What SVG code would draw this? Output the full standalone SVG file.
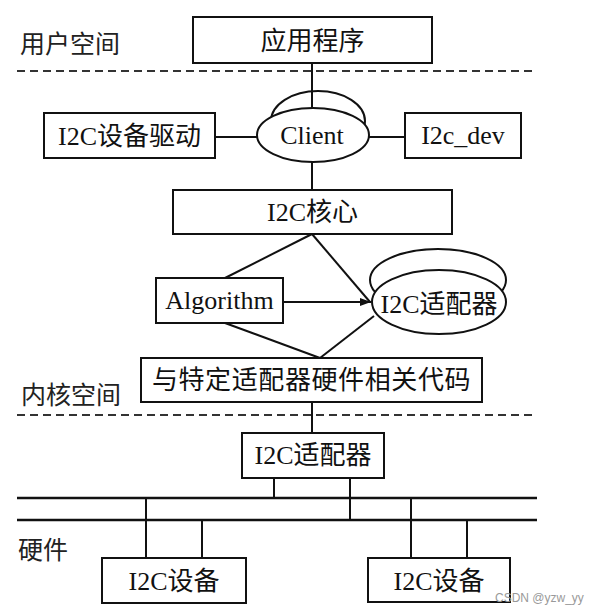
<svg xmlns="http://www.w3.org/2000/svg" width="589" height="613" viewBox="0 0 589 613">
<defs>
<style>
.box{fill:#fff;stroke:#111;stroke-width:2}
.ell{fill:#fff;stroke:#111;stroke-width:2}
.back{fill:none;stroke:#111;stroke-width:2}
.ln{stroke:#111;stroke-width:2;fill:none}
.bus{stroke:#111;stroke-width:2.5;fill:none}
.dash{stroke:#333;stroke-width:2;stroke-dasharray:8 5;fill:none}
.t{font-family:"Liberation Serif","Noto Sans CJK SC",serif;font-size:26px;fill:#111;text-anchor:middle;dominant-baseline:central}
.lbl{font-family:"Noto Sans CJK SC","Noto Sans",sans-serif;font-size:25px;fill:#222;dominant-baseline:central}
.wm{font-family:"Liberation Sans","Noto Sans",sans-serif;font-size:12px;fill:#999}
</style>
<marker id="arr" markerWidth="12" markerHeight="10" refX="11" refY="5" orient="auto" markerUnits="userSpaceOnUse">
<path d="M0,1 L11,5 L0,9 Z" fill="#111"/>
</marker>
</defs>
<rect width="589" height="613" fill="#fff"/>

<g id="labels">
<text class="lbl" x="20" y="42">用户空间</text>
<text class="lbl" x="21" y="393">内核空间</text>
<text class="lbl" x="18" y="548">硬件</text>
</g>

<g id="separators">
<line class="dash" x1="17" y1="71" x2="535" y2="71"/>
<line class="dash" x1="17" y1="415" x2="535" y2="415"/>
</g>

<g id="connectors">
<line class="ln" x1="312" y1="63" x2="312" y2="108"/>
<line class="ln" x1="215" y1="137" x2="257" y2="137"/>
<line class="ln" x1="369" y1="137" x2="405" y2="137"/>
<line class="ln" x1="312" y1="162" x2="312" y2="190"/>
<line class="ln" x1="312" y1="234" x2="225" y2="278"/>
<line class="ln" x1="312" y1="234" x2="370" y2="302"/>
<line class="ln" x1="283" y1="302" x2="371" y2="302" marker-end="url(#arr)"/>
<line class="ln" x1="225" y1="323" x2="320" y2="358"/>
<line class="ln" x1="374" y1="316" x2="320" y2="358"/>
<line class="ln" x1="312" y1="403" x2="312" y2="433"/>
<line class="ln" x1="274" y1="478" x2="274" y2="498"/>
<line class="ln" x1="350" y1="478" x2="350" y2="520"/>
<line class="bus" x1="17" y1="498" x2="537" y2="498"/>
<line class="bus" x1="17" y1="520" x2="537" y2="520"/>
<line class="ln" x1="146" y1="498" x2="146" y2="558"/>
<line class="ln" x1="202" y1="520" x2="202" y2="558"/>
<line class="ln" x1="411" y1="498" x2="411" y2="558"/>
<line class="ln" x1="467" y1="520" x2="467" y2="558"/>
</g>

<g id="app">
<rect class="box" x="193" y="17" width="239" height="46"/>
<text class="t" x="312.5" y="41">应用程序</text>
</g>

<g id="driver">
<rect class="box" x="44" y="113" width="171" height="45"/>
<text class="t" x="129.5" y="136">I2C设备驱动</text>
</g>

<g id="client">
<ellipse class="back" cx="318" cy="121" rx="47" ry="30"/>
<ellipse class="ell" cx="313" cy="135" rx="56" ry="27"/>
<text class="t" x="312" y="135" font-size="27">Client</text>
</g>

<g id="i2cdev">
<rect class="box" x="405" y="113" width="116" height="45"/>
<text class="t" x="463" y="135">I2c_dev</text>
</g>

<g id="core">
<rect class="box" x="173" y="190" width="279" height="44"/>
<text class="t" x="312.5" y="212">I2C核心</text>
</g>

<g id="algorithm">
<rect class="box" x="156" y="278" width="127" height="45"/>
<text class="t" x="219.5" y="300">Algorithm</text>
</g>

<g id="adapter-ellipse">
<ellipse class="back" cx="438" cy="280" rx="68" ry="31"/>
<ellipse class="ell" cx="439" cy="302" rx="67" ry="32"/>
<text class="t" x="439" y="304">I2C适配器</text>
</g>

<g id="hwcode">
<rect class="box" x="141" y="358" width="341" height="44"/>
<text class="t" x="311.5" y="380" letter-spacing="0.6">与特定适配器硬件相关代码</text>
</g>

<g id="adapter-hw">
<rect class="box" x="242" y="433" width="142" height="45"/>
<text class="t" x="313" y="455">I2C适配器</text>
</g>

<g id="device1">
<rect class="box" x="102" y="558" width="144" height="45"/>
<text class="t" x="174" y="581">I2C设备</text>
</g>

<g id="device2">
<rect class="box" x="368" y="558" width="142" height="44"/>
<text class="t" x="439" y="581">I2C设备</text>
</g>

<g id="watermark">
<text class="wm" x="495" y="602">CSDN @yzw_yy</text>
</g>
</svg>
